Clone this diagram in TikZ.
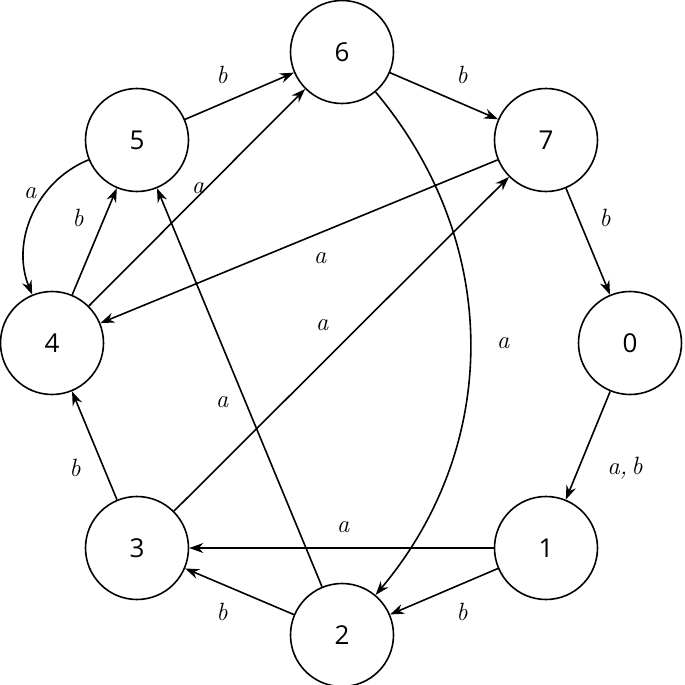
\documentclass[tikz,border=0pt]{standalone}
\usepackage{fontspec}
\setsansfont{Open Sans}
\usetikzlibrary{arrows.meta}
\begin{document}
\begin{tikzpicture}[x=1pt,y=1pt,
  st/.style={circle,draw,line width=1.6pt,minimum size=103pt,inner sep=0pt,font=\sffamily\fontsize{26}{26}\selectfont},
  tr/.style={line width=1.6pt,-{Stealth[length=14pt,width=10pt]}},
  lb/.style={font=\rmfamily\itshape\fontsize{25}{25}\selectfont}]
\useasboundingbox (0,0) rectangle (685,-685);
\node[st] (s6) at (342,-52) {6};
\node[st] (s7) at (546,-140) {7};
\node[st] (s5) at (137,-140) {5};
\node[st] (s4) at (52,-343) {4};
\node[st] (s0) at (630,-343) {0};
\node[st] (s3) at (137,-548) {3};
\node[st] (s1) at (546,-548) {1};
\node[st] (s2) at (342,-635) {2};
\draw[tr] (s5) -- (s6);
\draw[tr] (s6) -- (s7);
\draw[tr] (s7) -- (s0);
\draw[tr] (s0) -- (s1);
\draw[tr] (s1) -- (s3);
\draw[tr] (s1) -- (s2);
\draw[tr] (s2) -- (s3);
\draw[tr] (s3) -- (s4);
\draw[tr] (s4) -- (s5);
\draw[tr] (s5) to[bend right=45] (s4);
\draw[tr] (s4) -- (s6);
\draw[tr] (s7) -- (s4);
\draw[tr] (s3) -- (s7);
\draw[tr] (s2) -- (s5);
\draw[tr] (s6) to[bend left=40] (s2);
\node[lb] (l1) at (222,-75) {b};
\node[lb] (l2) at (462,-75) {b};
\node[lb] (l3) at (605,-218) {b};
\node[lb] (l4) at (625,-468) {a,\,b};
\node[lb] (l5) at (343,-527) {a};
\node[lb] (l6) at (462,-612) {b};
\node[lb] (l7) at (222,-612) {b};
\node[lb] (l8) at (75,-468) {b};
\node[lb] (l9) at (78,-218) {b};
\node[lb] (l10) at (30,-193) {a};
\node[lb] (l11) at (198,-188) {a};
\node[lb] (l12) at (320,-258) {a};
\node[lb] (l13) at (322,-325) {a};
\node[lb] (l14) at (222,-402) {a};
\node[lb] (l15) at (503,-343) {a};
\end{tikzpicture}
\end{document}
